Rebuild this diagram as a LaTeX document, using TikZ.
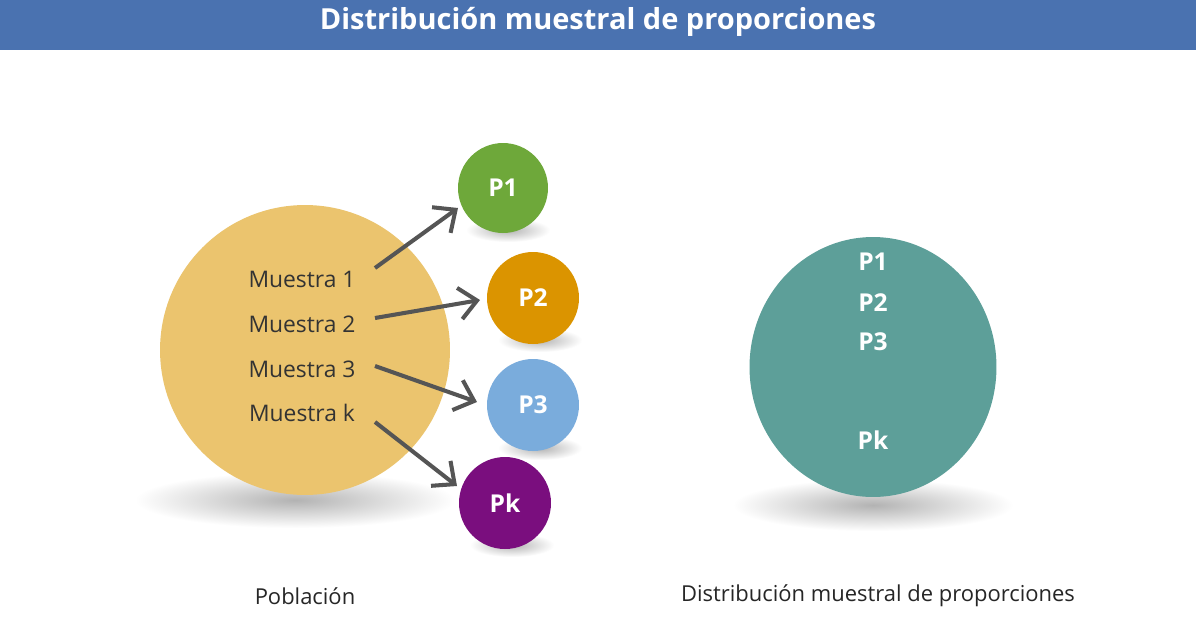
\documentclass[tikz,border=0pt]{standalone}
\usepackage{fontspec}
\setmainfont{Open Sans}
\usetikzlibrary{arrows.meta,shapes.geometric}
\definecolor{hdr}{HTML}{4A72B0}
\definecolor{pop}{HTML}{EBC46E}
\definecolor{cA}{HTML}{6EA83A}
\definecolor{cB}{HTML}{DB9400}
\definecolor{cC}{HTML}{7AACDC}
\definecolor{cK}{HTML}{7A0E7E}
\definecolor{dist}{HTML}{5D9F99}
\definecolor{arr}{HTML}{555555}
\tikzset{
 pc/.style={circle,minimum size=1.84cm,inner sep=0,text=white,font=\bfseries\fontsize{14}{16}\selectfont},
 mu/.style={text=black!80,font=\fontsize{13}{15}\selectfont,inner sep=0},
 lb/.style={text=black!85,font=\fontsize{12.5}{15}\selectfont,inner sep=0},
 dl/.style={text=white,font=\bfseries\fontsize{14}{16}\selectfont,inner sep=0},
 ar/.style={arr,line width=2.3pt,-{Straight Barb[length=10pt,width=18pt]}},
 shd/.style={inner color=black!30,outer color=white,draw=none}
}
\begin{document}
\begin{tikzpicture}[x=0.02cm,y=-0.02cm]
\useasboundingbox (0,0) rectangle (1200,630);
\fill[white] (0,0) rectangle (1200,630);
\fill[hdr] (0,0) rectangle (1196,50);
\node[text=white,font=\bfseries\fontsize{16.5}{19}\selectfont] (title) at (598,22) {Distribución muestral de proporciones};
% shadows
\shade[shd] (295,500) ellipse (160 and 28);
\shade[shd] (873,505) ellipse (140 and 26);
\shade[shd] (540,340) ellipse (42 and 12);
\shade[shd] (540,448) ellipse (42 and 12);
\shade[shd] (512,545) ellipse (42 and 12);
\shade[shd] (508,230) ellipse (42 and 12);
\node[circle,fill=pop,minimum size=5.8cm,inner sep=0] (popc) at (305,350) {};
\node[ellipse,fill=dist,minimum width=4.94cm,minimum height=5.2cm,inner sep=0] (dc) at (873,367) {};
\node[pc,fill=cA,minimum size=1.8cm] (p1) at (503,188) {P1};
\node[pc,fill=cB] (p2) at (533,298) {P2};
\node[pc,fill=cC] (p3) at (533,405) {P3};
\node[pc,fill=cK] (pk) at (505,503) {Pk};
\node[mu] (m1) at (302,279) {Muestra 1};
\node[mu] (m2) at (302,324) {Muestra 2};
\node[mu] (m3) at (302,369) {Muestra 3};
\node[mu] (mk) at (302,413) {Muestra k};
\coordinate (a1) at (375,268); \coordinate (b1) at (458,208);
\coordinate (a2) at (375,318); \coordinate (b2) at (480,300);
\coordinate (a3) at (375,366); \coordinate (b3) at (477,402);
\coordinate (a4) at (375,422); \coordinate (b4) at (457,486);
\draw[ar] (a1) -- (b1);
\draw[ar] (a2) -- (b2);
\draw[ar] (a3) -- (b3);
\draw[ar] (a4) -- (b4);
\node[dl] (d1) at (873,262) {P1};
\node[dl] (d2) at (873,303) {P2};
\node[dl] (d3) at (873,342) {P3};
\node[dl] (dk) at (873,440) {Pk};
\node[lb] (lp) at (305,596) {Población};
\node[lb] (ld) at (878,596) {Distribución muestral de proporciones};
\end{tikzpicture}
\end{document}
